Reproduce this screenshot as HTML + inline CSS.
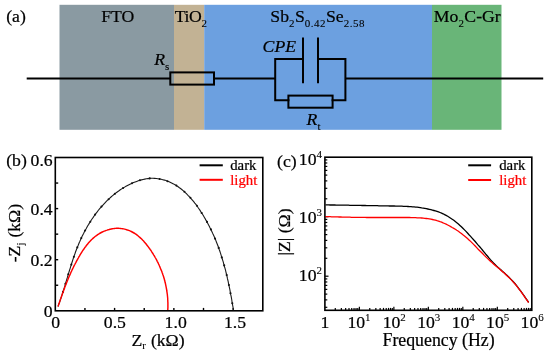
<!DOCTYPE html>
<html><head><meta charset="utf-8"><title>figure</title>
<style>html,body{margin:0;padding:0;background:#fff}svg{display:block}text{font-family:"Liberation Serif","DejaVu Serif",serif}</style>
</head><body>
<svg width="550" height="356" viewBox="0 0 550 356">
<rect width="550" height="356" fill="#fff"/>
<rect x="59.5" y="4.8" width="114.50" height="125.00000000000001" fill="#8a9aa2"/>
<rect x="174" y="4.8" width="30.20" height="125.00000000000001" fill="#c2b294"/>
<rect x="204.2" y="4.8" width="227.80" height="125.00000000000001" fill="#6ca0e0"/>
<rect x="432" y="4.8" width="69.50" height="125.00000000000001" fill="#69b578"/>
<line x1="26.7" y1="78.6" x2="170.3" y2="78.6" stroke="#000" stroke-width="2.0"/>
<rect x="170.3" y="72.4" width="43.7" height="12.2" fill="none" stroke="#000" stroke-width="2.0"/>
<line x1="214" y1="78.6" x2="275.2" y2="78.6" stroke="#000" stroke-width="2.0"/>
<path d="M303 59 H275.2 V100.3 H288.4 M332.6 100.3 H345.4 V59 H318" fill="none" stroke="#000" stroke-width="2.0" stroke-linejoin="miter" stroke-linecap="square"/>
<line x1="303" y1="37.6" x2="303" y2="83.3" stroke="#000" stroke-width="2.0"/>
<line x1="318" y1="37.6" x2="318" y2="83.3" stroke="#000" stroke-width="2.0"/>
<rect x="288.4" y="95.6" width="44.2" height="12.1" fill="none" stroke="#000" stroke-width="2.0"/>
<line x1="345.4" y1="78.6" x2="543.2" y2="78.6" stroke="#000" stroke-width="2.0"/>
<text x="6.2" y="22.3" font-size="17.7" text-anchor="start" fill="#000" stroke="#000" stroke-width="0.22" >(a)</text>
<text x="101.2" y="22.2" font-size="17.7" text-anchor="start" fill="#000" stroke="#000" stroke-width="0.22" >FTO</text>
<text x="174.7" y="22.4" font-size="17.7" text-anchor="start" fill="#000" stroke="#000" stroke-width="0.22" letter-spacing="-0.35">TiO<tspan font-size="10.97" dy="4.2" letter-spacing="0.5" stroke-width="0.1">2</tspan></text>
<text x="270.3" y="22.4" font-size="17.7" text-anchor="start" fill="#000" stroke="#000" stroke-width="0.22" >Sb<tspan font-size="10.97" dy="4.2" letter-spacing="0.5" stroke-width="0.1">2</tspan><tspan dy="-4.2">S</tspan><tspan font-size="10.97" dy="4.2" letter-spacing="0.5" stroke-width="0.1">0.42</tspan><tspan dy="-4.2">Se</tspan><tspan font-size="10.97" dy="4.2" letter-spacing="0.5" stroke-width="0.1">2.58</tspan></text>
<text x="433.8" y="22.4" font-size="17.7" text-anchor="start" fill="#000" stroke="#000" stroke-width="0.22" >Mo<tspan font-size="10.97" dy="4.2" letter-spacing="0.5" stroke-width="0.1">2</tspan><tspan dy="-4.2">C-Gr</tspan></text>
<text x="154.2" y="65.3" font-size="17.7" text-anchor="start" fill="#000" stroke="#000" stroke-width="0.22" ><tspan font-style="italic">R</tspan><tspan font-size="10.97" dy="4.2" letter-spacing="0.5" stroke-width="0.1">s</tspan></text>
<text x="262.6" y="51.8" font-size="17.7" text-anchor="start" fill="#000" stroke="#000" stroke-width="0.22" ><tspan font-style="italic">CPE</tspan></text>
<text x="306.6" y="125.3" font-size="17.7" text-anchor="start" fill="#000" stroke="#000" stroke-width="0.22" ><tspan font-style="italic">R</tspan><tspan font-size="10.97" dy="4.2" letter-spacing="0.5" stroke-width="0.1">t</tspan></text>
<rect x="55.3" y="157.5" width="207.50" height="153.30" fill="none" stroke="#000" stroke-width="1.6"/>
<line x1="84.94" y1="310.8" x2="84.94" y2="307.90000000000003" stroke="#000" stroke-width="1.4"/>
<line x1="114.59" y1="310.8" x2="114.59" y2="307.90000000000003" stroke="#000" stroke-width="1.4"/>
<line x1="144.23" y1="310.8" x2="144.23" y2="307.90000000000003" stroke="#000" stroke-width="1.4"/>
<line x1="173.87" y1="310.8" x2="173.87" y2="307.90000000000003" stroke="#000" stroke-width="1.4"/>
<line x1="203.51" y1="310.8" x2="203.51" y2="307.90000000000003" stroke="#000" stroke-width="1.4"/>
<line x1="233.16" y1="310.8" x2="233.16" y2="307.90000000000003" stroke="#000" stroke-width="1.4"/>
<line x1="55.3" y1="285.25" x2="58.199999999999996" y2="285.25" stroke="#000" stroke-width="1.4"/>
<line x1="55.3" y1="259.7" x2="58.199999999999996" y2="259.7" stroke="#000" stroke-width="1.4"/>
<line x1="55.3" y1="234.15" x2="58.199999999999996" y2="234.15" stroke="#000" stroke-width="1.4"/>
<line x1="55.3" y1="208.6" x2="58.199999999999996" y2="208.6" stroke="#000" stroke-width="1.4"/>
<line x1="55.3" y1="183.05" x2="58.199999999999996" y2="183.05" stroke="#000" stroke-width="1.4"/>
<text x="55.6" y="327.6" font-size="17.7" text-anchor="middle" fill="#000" stroke="#000" stroke-width="0.22" >0</text>
<text x="114.89" y="327.6" font-size="17.7" text-anchor="middle" fill="#000" stroke="#000" stroke-width="0.22" >0.5</text>
<text x="175.67" y="327.6" font-size="17.7" text-anchor="middle" fill="#000" stroke="#000" stroke-width="0.22" >1.0</text>
<text x="234.96" y="327.6" font-size="17.7" text-anchor="middle" fill="#000" stroke="#000" stroke-width="0.22" >1.5</text>
<text x="52.7" y="316.8" font-size="17.7" text-anchor="end" fill="#000" stroke="#000" stroke-width="0.22" >0</text>
<text x="52.7" y="266.0" font-size="17.7" text-anchor="end" fill="#000" stroke="#000" stroke-width="0.22" >0.2</text>
<text x="52.7" y="215.4" font-size="17.7" text-anchor="end" fill="#000" stroke="#000" stroke-width="0.22" >0.4</text>
<text x="52.7" y="166.1" font-size="17.7" text-anchor="end" fill="#000" stroke="#000" stroke-width="0.22" >0.6</text>
<text x="6.2" y="166.4" font-size="17.7" text-anchor="start" fill="#000" stroke="#000" stroke-width="0.22" >(b)</text>
<text x="131.5" y="345.7" font-size="17.7" text-anchor="start" fill="#000" stroke="#000" stroke-width="0.22" >Z<tspan font-size="10.97" dy="3.5" letter-spacing="0.5" stroke-width="0.1">r</tspan><tspan dy="-3.5"> (kΩ)</tspan></text>
<text transform="translate(20.0,262.3) rotate(-90)" font-size="17.7" stroke="#000" stroke-width="0.22">-Z<tspan font-size="10.97" dy="3.5" letter-spacing="0.5" stroke-width="0.1">j</tspan><tspan dy="-3.5"> (kΩ)</tspan></text>
<polyline points="58.0,306.5 58.6,304.9 59.2,303.3 59.8,301.7 60.3,300.0 60.9,298.4 61.4,296.8 61.9,295.1 62.5,293.5 63.0,291.9 63.5,290.3 64.0,288.7 64.5,287.1 65.0,285.4 65.4,283.8 65.9,282.2 66.4,280.6 66.9,279.0 67.4,277.4 67.8,275.8 68.3,274.2 68.8,272.6 69.3,271.0 69.8,269.4 70.3,267.8 70.8,266.2 71.3,264.6 71.8,263.0 72.3,261.5 72.8,259.9 73.3,258.3 73.9,256.7 74.4,255.2 75.0,253.6 75.5,252.0 76.1,250.5 76.7,248.9 77.3,247.4 78.0,245.8 78.6,244.3 79.2,242.7 79.9,241.2 80.6,239.6 81.3,238.1 82.0,236.6 82.8,235.0 83.6,233.5 84.3,232.0 85.1,230.5 86.0,229.0 86.8,227.5 87.6,226.0 88.5,224.6 89.4,223.1 90.3,221.7 91.2,220.2 92.2,218.8 93.2,217.4 94.1,216.0 95.1,214.6 96.2,213.2 97.2,211.9 98.2,210.5 99.3,209.2 100.4,207.9 101.5,206.6 102.7,205.3 103.8,204.1 105.0,202.8 106.1,201.6 107.3,200.4 108.6,199.3 109.8,198.1 111.0,197.0 112.3,195.9 113.6,194.8 114.9,193.8 116.2,192.7 117.6,191.7 119.0,190.8 120.3,189.8 121.7,188.9 123.1,188.0 124.6,187.1 126.0,186.3 127.5,185.5 129.0,184.7 130.5,184.0 132.0,183.3 133.6,182.6 135.1,182.0 136.7,181.4 138.3,180.8 139.9,180.3 141.5,179.9 143.1,179.5 144.8,179.1 146.4,178.8 148.0,178.6 149.7,178.4 151.3,178.3 153.0,178.3 154.6,178.4 156.3,178.5 157.9,178.7 159.6,179.0 161.2,179.3 162.8,179.7 164.4,180.1 166.0,180.6 167.5,181.2 169.1,181.8 170.6,182.5 172.1,183.2 173.5,183.9 175.0,184.8 176.4,185.6 177.8,186.5 179.1,187.5 180.5,188.5 181.8,189.5 183.1,190.6 184.4,191.7 185.6,192.9 186.8,194.0 188.0,195.3 189.2,196.5 190.4,197.8 191.5,199.1 192.6,200.4 193.7,201.7 194.8,203.1 195.9,204.4 196.9,205.8 197.9,207.3 198.9,208.7 199.9,210.1 200.8,211.6 201.7,213.0 202.7,214.5 203.6,216.0 204.4,217.4 205.3,218.9 206.1,220.4 207.0,221.9 207.8,223.4 208.6,224.9 209.4,226.4 210.1,227.9 210.9,229.4 211.6,230.9 212.3,232.4 213.0,234.0 213.7,235.5 214.4,237.0 215.0,238.6 215.7,240.1 216.3,241.7 216.9,243.2 217.5,244.8 218.1,246.3 218.7,247.9 219.2,249.5 219.8,251.0 220.3,252.6 220.8,254.2 221.3,255.8 221.8,257.4 222.3,259.0 222.8,260.6 223.3,262.2 223.7,263.8 224.2,265.4 224.6,267.0 225.1,268.6 225.5,270.2 225.9,271.8 226.3,273.5 226.7,275.1 227.1,276.7 227.4,278.4 227.8,280.0 228.2,281.7 228.5,283.3 228.9,285.0 229.2,286.6 229.6,288.3 229.9,289.9 230.2,291.6 230.5,293.3 230.8,294.9 231.2,296.6 231.5,298.3 231.8,300.0 232.0,301.6 232.3,303.3 232.6,305.0 232.9,306.7 233.2,308.4 233.5,310.1" fill="none" stroke="#1a1a1a" stroke-width="1.1" stroke-linejoin="round"/>
<circle cx="63.0" cy="291.9" r="1.05" fill="#111"/>
<circle cx="65.4" cy="283.8" r="1.05" fill="#111"/>
<circle cx="68.3" cy="274.2" r="1.05" fill="#111"/>
<circle cx="71.3" cy="264.6" r="1.05" fill="#111"/>
<circle cx="73.9" cy="256.7" r="1.05" fill="#111"/>
<circle cx="77.3" cy="247.4" r="1.05" fill="#111"/>
<circle cx="81.3" cy="238.1" r="1.05" fill="#111"/>
<circle cx="85.1" cy="230.5" r="1.05" fill="#111"/>
<circle cx="90.3" cy="221.7" r="1.05" fill="#111"/>
<circle cx="95.1" cy="214.6" r="1.05" fill="#111"/>
<circle cx="101.5" cy="206.6" r="1.05" fill="#111"/>
<circle cx="108.6" cy="199.3" r="1.05" fill="#111"/>
<circle cx="114.9" cy="193.8" r="1.05" fill="#111"/>
<circle cx="123.1" cy="188.0" r="1.05" fill="#111"/>
<circle cx="132.0" cy="183.3" r="1.05" fill="#111"/>
<circle cx="139.9" cy="180.3" r="1.05" fill="#111"/>
<circle cx="149.7" cy="178.4" r="1.05" fill="#111"/>
<circle cx="159.6" cy="179.0" r="1.05" fill="#111"/>
<circle cx="167.5" cy="181.2" r="1.05" fill="#111"/>
<circle cx="176.4" cy="185.6" r="1.05" fill="#111"/>
<circle cx="184.4" cy="191.7" r="1.05" fill="#111"/>
<circle cx="190.4" cy="197.8" r="1.05" fill="#111"/>
<circle cx="196.9" cy="205.8" r="1.05" fill="#111"/>
<circle cx="201.7" cy="213.0" r="1.05" fill="#111"/>
<circle cx="207.0" cy="221.9" r="1.05" fill="#111"/>
<circle cx="210.9" cy="229.4" r="1.05" fill="#111"/>
<circle cx="215.0" cy="238.6" r="1.05" fill="#111"/>
<circle cx="218.7" cy="247.9" r="1.05" fill="#111"/>
<circle cx="221.8" cy="257.4" r="1.05" fill="#111"/>
<circle cx="224.2" cy="265.4" r="1.05" fill="#111"/>
<circle cx="226.7" cy="275.1" r="1.05" fill="#111"/>
<circle cx="228.9" cy="285.0" r="1.05" fill="#111"/>
<circle cx="230.5" cy="293.3" r="1.05" fill="#111"/>
<circle cx="232.3" cy="303.3" r="1.05" fill="#111"/>
<polyline points="58.0,306.4 58.4,305.4 58.7,304.4 59.0,303.4 59.4,302.4 59.7,301.4 60.1,300.4 60.4,299.4 60.8,298.4 61.1,297.4 61.5,296.5 61.8,295.5 62.2,294.5 62.5,293.5 62.9,292.5 63.3,291.5 63.6,290.5 64.0,289.5 64.4,288.6 64.7,287.6 65.1,286.6 65.5,285.6 65.9,284.6 66.2,283.7 66.6,282.7 67.0,281.7 67.4,280.7 67.8,279.8 68.2,278.8 68.6,277.8 69.0,276.8 69.4,275.9 69.9,274.9 70.3,274.0 70.7,273.0 71.1,272.0 71.6,271.1 72.0,270.1 72.5,269.2 72.9,268.2 73.4,267.3 73.8,266.3 74.3,265.4 74.8,264.5 75.3,263.5 75.8,262.6 76.3,261.6 76.8,260.7 77.3,259.8 77.8,258.9 78.3,258.0 78.8,257.0 79.4,256.1 79.9,255.2 80.4,254.3 81.0,253.4 81.6,252.5 82.1,251.6 82.7,250.7 83.3,249.8 83.9,249.0 84.5,248.1 85.1,247.2 85.8,246.4 86.4,245.5 87.0,244.7 87.7,243.9 88.4,243.1 89.1,242.3 89.8,241.5 90.5,240.8 91.2,240.0 92.0,239.3 92.7,238.6 93.5,237.9 94.3,237.2 95.1,236.5 96.0,235.9 96.8,235.3 97.7,234.7 98.6,234.1 99.5,233.5 100.4,233.0 101.3,232.5 102.3,232.0 103.2,231.6 104.2,231.2 105.2,230.8 106.2,230.4 107.2,230.1 108.2,229.7 109.2,229.5 110.2,229.2 111.3,229.0 112.3,228.8 113.3,228.6 114.4,228.5 115.4,228.4 116.4,228.3 117.5,228.3 118.5,228.3 119.5,228.4 120.6,228.5 121.6,228.6 122.6,228.7 123.6,228.9 124.6,229.1 125.6,229.4 126.6,229.7 127.5,230.0 128.5,230.3 129.5,230.7 130.4,231.1 131.3,231.5 132.2,232.0 133.1,232.5 134.0,233.0 134.9,233.5 135.8,234.1 136.6,234.7 137.4,235.3 138.2,236.0 139.0,236.7 139.8,237.4 140.6,238.1 141.4,238.8 142.1,239.5 142.8,240.3 143.6,241.1 144.3,241.9 145.0,242.7 145.7,243.5 146.3,244.3 147.0,245.2 147.6,246.0 148.3,246.9 148.9,247.7 149.6,248.6 150.2,249.5 150.8,250.3 151.4,251.2 151.9,252.1 152.5,253.0 153.1,253.9 153.6,254.8 154.2,255.7 154.7,256.6 155.2,257.5 155.8,258.5 156.3,259.4 156.8,260.3 157.2,261.3 157.7,262.2 158.2,263.1 158.6,264.1 159.1,265.0 159.5,266.0 159.9,266.9 160.3,267.9 160.7,268.9 161.1,269.9 161.5,270.8 161.9,271.8 162.2,272.8 162.6,273.8 162.9,274.8 163.3,275.8 163.6,276.8 163.9,277.8 164.2,278.8 164.5,279.8 164.7,280.8 165.0,281.8 165.2,282.8 165.5,283.8 165.7,284.8 165.9,285.9 166.1,286.9 166.3,287.9 166.5,289.0 166.7,290.0 166.8,291.0 167.0,292.1 167.1,293.1 167.3,294.1 167.4,295.2 167.5,296.2 167.6,297.3 167.7,298.3 167.7,299.4 167.8,300.5 167.8,301.5 167.9,302.6 167.9,303.6 167.9,304.7 167.9,305.8 167.9,306.8 167.9,307.9 167.8,309.0 167.8,310.0" fill="none" stroke="#f00" stroke-width="1.45" stroke-linejoin="round"/>
<line x1="199.6" y1="165.3" x2="222.8" y2="165.3" stroke="#000" stroke-width="2"/>
<line x1="199.6" y1="179.8" x2="222.8" y2="179.8" stroke="#f00" stroke-width="2"/>
<text x="230.2" y="170.3" font-size="14.8" text-anchor="start" fill="#000" stroke="#000" stroke-width="0.22" >dark</text>
<text x="230.2" y="185" font-size="14.8" text-anchor="start" fill="#f00" stroke="#f00" stroke-width="0.22" >light</text>
<rect x="324.9" y="157.2" width="206.90" height="153.10" fill="none" stroke="#000" stroke-width="1.6"/>
<line x1="335.28" y1="310.3" x2="335.28" y2="307.90000000000003" stroke="#000" stroke-width="1.2"/>
<line x1="341.35" y1="310.3" x2="341.35" y2="307.90000000000003" stroke="#000" stroke-width="1.2"/>
<line x1="345.66" y1="310.3" x2="345.66" y2="307.90000000000003" stroke="#000" stroke-width="1.2"/>
<line x1="349.0" y1="310.3" x2="349.0" y2="307.90000000000003" stroke="#000" stroke-width="1.2"/>
<line x1="351.73" y1="310.3" x2="351.73" y2="307.90000000000003" stroke="#000" stroke-width="1.2"/>
<line x1="354.04" y1="310.3" x2="354.04" y2="307.90000000000003" stroke="#000" stroke-width="1.2"/>
<line x1="356.04" y1="310.3" x2="356.04" y2="307.90000000000003" stroke="#000" stroke-width="1.2"/>
<line x1="357.81" y1="310.3" x2="357.81" y2="307.90000000000003" stroke="#000" stroke-width="1.2"/>
<line x1="359.38" y1="310.3" x2="359.38" y2="306.7" stroke="#000" stroke-width="1.2"/>
<line x1="369.76" y1="310.3" x2="369.76" y2="307.90000000000003" stroke="#000" stroke-width="1.2"/>
<line x1="375.84" y1="310.3" x2="375.84" y2="307.90000000000003" stroke="#000" stroke-width="1.2"/>
<line x1="380.14" y1="310.3" x2="380.14" y2="307.90000000000003" stroke="#000" stroke-width="1.2"/>
<line x1="383.49" y1="310.3" x2="383.49" y2="307.90000000000003" stroke="#000" stroke-width="1.2"/>
<line x1="386.22" y1="310.3" x2="386.22" y2="307.90000000000003" stroke="#000" stroke-width="1.2"/>
<line x1="388.53" y1="310.3" x2="388.53" y2="307.90000000000003" stroke="#000" stroke-width="1.2"/>
<line x1="390.52" y1="310.3" x2="390.52" y2="307.90000000000003" stroke="#000" stroke-width="1.2"/>
<line x1="392.29" y1="310.3" x2="392.29" y2="307.90000000000003" stroke="#000" stroke-width="1.2"/>
<line x1="393.87" y1="310.3" x2="393.87" y2="306.7" stroke="#000" stroke-width="1.2"/>
<line x1="404.25" y1="310.3" x2="404.25" y2="307.90000000000003" stroke="#000" stroke-width="1.2"/>
<line x1="410.32" y1="310.3" x2="410.32" y2="307.90000000000003" stroke="#000" stroke-width="1.2"/>
<line x1="414.63" y1="310.3" x2="414.63" y2="307.90000000000003" stroke="#000" stroke-width="1.2"/>
<line x1="417.97" y1="310.3" x2="417.97" y2="307.90000000000003" stroke="#000" stroke-width="1.2"/>
<line x1="420.7" y1="310.3" x2="420.7" y2="307.90000000000003" stroke="#000" stroke-width="1.2"/>
<line x1="423.01" y1="310.3" x2="423.01" y2="307.90000000000003" stroke="#000" stroke-width="1.2"/>
<line x1="425.01" y1="310.3" x2="425.01" y2="307.90000000000003" stroke="#000" stroke-width="1.2"/>
<line x1="426.77" y1="310.3" x2="426.77" y2="307.90000000000003" stroke="#000" stroke-width="1.2"/>
<line x1="428.35" y1="310.3" x2="428.35" y2="306.7" stroke="#000" stroke-width="1.2"/>
<line x1="438.73" y1="310.3" x2="438.73" y2="307.90000000000003" stroke="#000" stroke-width="1.2"/>
<line x1="444.8" y1="310.3" x2="444.8" y2="307.90000000000003" stroke="#000" stroke-width="1.2"/>
<line x1="449.11" y1="310.3" x2="449.11" y2="307.90000000000003" stroke="#000" stroke-width="1.2"/>
<line x1="452.45" y1="310.3" x2="452.45" y2="307.90000000000003" stroke="#000" stroke-width="1.2"/>
<line x1="455.18" y1="310.3" x2="455.18" y2="307.90000000000003" stroke="#000" stroke-width="1.2"/>
<line x1="457.49" y1="310.3" x2="457.49" y2="307.90000000000003" stroke="#000" stroke-width="1.2"/>
<line x1="459.49" y1="310.3" x2="459.49" y2="307.90000000000003" stroke="#000" stroke-width="1.2"/>
<line x1="461.26" y1="310.3" x2="461.26" y2="307.90000000000003" stroke="#000" stroke-width="1.2"/>
<line x1="462.83" y1="310.3" x2="462.83" y2="306.7" stroke="#000" stroke-width="1.2"/>
<line x1="473.21" y1="310.3" x2="473.21" y2="307.90000000000003" stroke="#000" stroke-width="1.2"/>
<line x1="479.29" y1="310.3" x2="479.29" y2="307.90000000000003" stroke="#000" stroke-width="1.2"/>
<line x1="483.59" y1="310.3" x2="483.59" y2="307.90000000000003" stroke="#000" stroke-width="1.2"/>
<line x1="486.94" y1="310.3" x2="486.94" y2="307.90000000000003" stroke="#000" stroke-width="1.2"/>
<line x1="489.67" y1="310.3" x2="489.67" y2="307.90000000000003" stroke="#000" stroke-width="1.2"/>
<line x1="491.98" y1="310.3" x2="491.98" y2="307.90000000000003" stroke="#000" stroke-width="1.2"/>
<line x1="493.97" y1="310.3" x2="493.97" y2="307.90000000000003" stroke="#000" stroke-width="1.2"/>
<line x1="495.74" y1="310.3" x2="495.74" y2="307.90000000000003" stroke="#000" stroke-width="1.2"/>
<line x1="497.32" y1="310.3" x2="497.32" y2="306.7" stroke="#000" stroke-width="1.2"/>
<line x1="507.7" y1="310.3" x2="507.7" y2="307.90000000000003" stroke="#000" stroke-width="1.2"/>
<line x1="513.77" y1="310.3" x2="513.77" y2="307.90000000000003" stroke="#000" stroke-width="1.2"/>
<line x1="518.08" y1="310.3" x2="518.08" y2="307.90000000000003" stroke="#000" stroke-width="1.2"/>
<line x1="521.42" y1="310.3" x2="521.42" y2="307.90000000000003" stroke="#000" stroke-width="1.2"/>
<line x1="524.15" y1="310.3" x2="524.15" y2="307.90000000000003" stroke="#000" stroke-width="1.2"/>
<line x1="526.46" y1="310.3" x2="526.46" y2="307.90000000000003" stroke="#000" stroke-width="1.2"/>
<line x1="528.46" y1="310.3" x2="528.46" y2="307.90000000000003" stroke="#000" stroke-width="1.2"/>
<line x1="530.22" y1="310.3" x2="530.22" y2="307.90000000000003" stroke="#000" stroke-width="1.2"/>
<line x1="324.9" y1="307.31" x2="327.29999999999995" y2="307.31" stroke="#000" stroke-width="1.2"/>
<line x1="324.9" y1="299.88" x2="327.29999999999995" y2="299.88" stroke="#000" stroke-width="1.2"/>
<line x1="324.9" y1="294.11" x2="327.29999999999995" y2="294.11" stroke="#000" stroke-width="1.2"/>
<line x1="324.9" y1="289.4" x2="327.29999999999995" y2="289.4" stroke="#000" stroke-width="1.2"/>
<line x1="324.9" y1="285.42" x2="327.29999999999995" y2="285.42" stroke="#000" stroke-width="1.2"/>
<line x1="324.9" y1="281.97" x2="327.29999999999995" y2="281.97" stroke="#000" stroke-width="1.2"/>
<line x1="324.9" y1="278.92" x2="327.29999999999995" y2="278.92" stroke="#000" stroke-width="1.2"/>
<line x1="324.9" y1="276.2" x2="328.5" y2="276.2" stroke="#000" stroke-width="1.2"/>
<line x1="324.9" y1="258.29" x2="327.29999999999995" y2="258.29" stroke="#000" stroke-width="1.2"/>
<line x1="324.9" y1="247.81" x2="327.29999999999995" y2="247.81" stroke="#000" stroke-width="1.2"/>
<line x1="324.9" y1="240.38" x2="327.29999999999995" y2="240.38" stroke="#000" stroke-width="1.2"/>
<line x1="324.9" y1="234.61" x2="327.29999999999995" y2="234.61" stroke="#000" stroke-width="1.2"/>
<line x1="324.9" y1="229.9" x2="327.29999999999995" y2="229.9" stroke="#000" stroke-width="1.2"/>
<line x1="324.9" y1="225.92" x2="327.29999999999995" y2="225.92" stroke="#000" stroke-width="1.2"/>
<line x1="324.9" y1="222.47" x2="327.29999999999995" y2="222.47" stroke="#000" stroke-width="1.2"/>
<line x1="324.9" y1="219.42" x2="327.29999999999995" y2="219.42" stroke="#000" stroke-width="1.2"/>
<line x1="324.9" y1="216.7" x2="328.5" y2="216.7" stroke="#000" stroke-width="1.2"/>
<line x1="324.9" y1="198.79" x2="327.29999999999995" y2="198.79" stroke="#000" stroke-width="1.2"/>
<line x1="324.9" y1="188.31" x2="327.29999999999995" y2="188.31" stroke="#000" stroke-width="1.2"/>
<line x1="324.9" y1="180.88" x2="327.29999999999995" y2="180.88" stroke="#000" stroke-width="1.2"/>
<line x1="324.9" y1="175.11" x2="327.29999999999995" y2="175.11" stroke="#000" stroke-width="1.2"/>
<line x1="324.9" y1="170.4" x2="327.29999999999995" y2="170.4" stroke="#000" stroke-width="1.2"/>
<line x1="324.9" y1="166.42" x2="327.29999999999995" y2="166.42" stroke="#000" stroke-width="1.2"/>
<line x1="324.9" y1="162.97" x2="327.29999999999995" y2="162.97" stroke="#000" stroke-width="1.2"/>
<line x1="324.9" y1="159.92" x2="327.29999999999995" y2="159.92" stroke="#000" stroke-width="1.2"/>
<text x="277" y="166.6" font-size="17.7" text-anchor="start" fill="#000" stroke="#000" stroke-width="0.22" >(c)</text>
<text x="324.9" y="327.6" font-size="17.7" text-anchor="middle" fill="#000" stroke="#000" stroke-width="0.22" >1</text>
<text x="347.38" y="327.6" font-size="17.7" text-anchor="start" fill="#000" stroke="#000" stroke-width="0.22" >10<tspan font-size="10.97" dy="-7" stroke-width="0.1">1</tspan></text>
<text x="382.67" y="327.6" font-size="17.7" text-anchor="start" fill="#000" stroke="#000" stroke-width="0.22" >10<tspan font-size="10.97" dy="-7" stroke-width="0.1">2</tspan></text>
<text x="417.15" y="327.6" font-size="17.7" text-anchor="start" fill="#000" stroke="#000" stroke-width="0.22" >10<tspan font-size="10.97" dy="-7" stroke-width="0.1">3</tspan></text>
<text x="451.63" y="327.6" font-size="17.7" text-anchor="start" fill="#000" stroke="#000" stroke-width="0.22" >10<tspan font-size="10.97" dy="-7" stroke-width="0.1">4</tspan></text>
<text x="486.12" y="327.6" font-size="17.7" text-anchor="start" fill="#000" stroke="#000" stroke-width="0.22" >10<tspan font-size="10.97" dy="-7" stroke-width="0.1">5</tspan></text>
<text x="520.6" y="327.6" font-size="17.7" text-anchor="start" fill="#000" stroke="#000" stroke-width="0.22" >10<tspan font-size="10.97" dy="-7" stroke-width="0.1">6</tspan></text>
<text x="298.8" y="281.2" font-size="17.7" text-anchor="start" fill="#000" stroke="#000" stroke-width="0.22" >10<tspan font-size="10.97" dy="-7" stroke-width="0.1">2</tspan></text>
<text x="298.8" y="222.7" font-size="17.7" text-anchor="start" fill="#000" stroke="#000" stroke-width="0.22" >10<tspan font-size="10.97" dy="-7" stroke-width="0.1">3</tspan></text>
<text x="298.8" y="164.7" font-size="17.7" text-anchor="start" fill="#000" stroke="#000" stroke-width="0.22" >10<tspan font-size="10.97" dy="-7" stroke-width="0.1">4</tspan></text>
<text x="382.5" y="345.6" font-size="17.8" text-anchor="start" fill="#000" stroke="#000" stroke-width="0.22" >Frequency (Hz)</text>
<text transform="translate(290.2,255.6) rotate(-90)" font-size="17.7" stroke="#000" stroke-width="0.22">|Z| (Ω)</text>
<polyline points="325.5,204.9 327.0,204.9 328.6,204.9 330.1,205.0 331.6,205.0 333.1,205.0 334.7,205.0 336.2,205.1 337.7,205.1 339.2,205.1 340.8,205.1 342.3,205.1 343.8,205.2 345.4,205.2 346.9,205.2 348.4,205.2 349.9,205.3 351.5,205.3 353.0,205.3 354.5,205.3 356.0,205.4 357.6,205.4 359.1,205.4 360.6,205.4 362.1,205.5 363.7,205.5 365.2,205.5 366.7,205.6 368.3,205.6 369.8,205.6 371.3,205.6 372.8,205.7 374.4,205.7 375.9,205.7 377.4,205.7 378.9,205.8 380.5,205.8 382.0,205.8 383.5,205.9 385.1,205.9 386.6,205.9 388.1,205.9 389.6,206.0 391.2,206.0 392.7,206.0 394.2,206.0 395.7,206.1 397.3,206.1 398.8,206.1 400.3,206.2 401.9,206.2 403.4,206.3 404.9,206.3 406.4,206.4 408.0,206.5 409.5,206.6 411.0,206.7 412.5,206.8 414.1,206.9 415.6,207.1 417.1,207.2 418.7,207.4 420.2,207.6 421.7,207.9 423.2,208.1 424.8,208.4 426.3,208.7 427.8,209.0 429.3,209.3 430.9,209.7 432.4,210.1 433.9,210.5 435.4,210.9 437.0,211.4 438.5,211.9 440.0,212.5 441.6,213.1 443.1,213.8 444.6,214.6 446.1,215.4 447.7,216.3 449.2,217.2 450.7,218.2 452.2,219.2 453.8,220.3 455.3,221.5 456.8,222.7 458.4,224.0 459.9,225.4 461.4,226.8 462.9,228.3 464.5,229.9 466.0,231.4 467.5,233.0 469.0,234.7 470.6,236.4 472.1,238.1 473.6,239.8 475.2,241.5 476.7,243.3 478.2,245.1 479.7,246.8 481.3,248.6 482.8,250.5 484.3,252.3 485.8,254.2 487.4,256.0 488.9,257.9 490.4,259.7 492.0,261.4 493.5,263.0 495.0,264.5 496.5,266.0 498.1,267.4 499.6,268.8 501.1,270.1 502.6,271.4 504.2,272.8 505.7,274.2 507.2,275.6 508.7,277.0 510.3,278.6 511.8,280.1 513.3,281.8 514.9,283.5 516.4,285.4 517.9,287.3 519.4,289.3 521.0,291.3 522.5,293.5 524.0,295.6 525.5,297.8 527.1,300.1 528.6,302.4" fill="none" stroke="#000" stroke-width="1.3" stroke-linejoin="round"/>
<polyline points="325.5,216.6 327.0,216.6 328.6,216.7 330.1,216.7 331.6,216.8 333.1,216.8 334.7,216.9 336.2,216.9 337.7,216.9 339.2,217.0 340.8,217.0 342.3,217.1 343.8,217.1 345.4,217.1 346.9,217.2 348.4,217.2 349.9,217.2 351.5,217.3 353.0,217.3 354.5,217.3 356.0,217.3 357.6,217.4 359.1,217.4 360.6,217.4 362.1,217.4 363.7,217.4 365.2,217.4 366.7,217.5 368.3,217.5 369.8,217.5 371.3,217.5 372.8,217.5 374.4,217.5 375.9,217.5 377.4,217.5 378.9,217.5 380.5,217.5 382.0,217.5 383.5,217.5 385.1,217.5 386.6,217.5 388.1,217.5 389.6,217.5 391.2,217.5 392.7,217.5 394.2,217.5 395.7,217.5 397.3,217.5 398.8,217.5 400.3,217.5 401.9,217.5 403.4,217.5 404.9,217.5 406.4,217.5 408.0,217.5 409.5,217.5 411.0,217.6 412.5,217.6 414.1,217.6 415.6,217.7 417.1,217.8 418.7,217.8 420.2,217.9 421.7,218.0 423.2,218.1 424.8,218.3 426.3,218.5 427.8,218.7 429.3,218.9 430.9,219.2 432.4,219.5 433.9,219.8 435.4,220.2 437.0,220.7 438.5,221.1 440.0,221.7 441.6,222.2 443.1,222.9 444.6,223.5 446.1,224.2 447.7,225.0 449.2,225.8 450.7,226.6 452.2,227.5 453.8,228.4 455.3,229.3 456.8,230.3 458.4,231.3 459.9,232.4 461.4,233.5 462.9,234.7 464.5,235.9 466.0,237.2 467.5,238.5 469.0,239.9 470.6,241.4 472.1,242.9 473.6,244.4 475.2,246.0 476.7,247.6 478.2,249.2 479.7,250.7 481.3,252.3 482.8,253.8 484.3,255.4 485.8,256.9 487.4,258.4 488.9,259.8 490.4,261.2 492.0,262.6 493.5,264.0 495.0,265.3 496.5,266.6 498.1,267.8 499.6,269.1 501.1,270.4 502.6,271.7 504.2,273.1 505.7,274.5 507.2,275.9 508.7,277.3 510.3,278.9 511.8,280.4 513.3,282.1 514.9,283.8 516.4,285.7 517.9,287.6 519.4,289.6 521.0,291.6 522.5,293.8 524.0,295.9 525.5,298.1 527.1,300.4 528.6,302.7" fill="none" stroke="#f00" stroke-width="1.3" stroke-linejoin="round"/>
<line x1="468.2" y1="165.3" x2="491.1" y2="165.3" stroke="#000" stroke-width="2"/>
<line x1="468.2" y1="180" x2="491.1" y2="180" stroke="#f00" stroke-width="2"/>
<text x="499.2" y="170.4" font-size="14.8" text-anchor="start" fill="#000" stroke="#000" stroke-width="0.22" >dark</text>
<text x="499.2" y="185" font-size="14.8" text-anchor="start" fill="#f00" stroke="#f00" stroke-width="0.22" >light</text>
</svg>
</body></html>
